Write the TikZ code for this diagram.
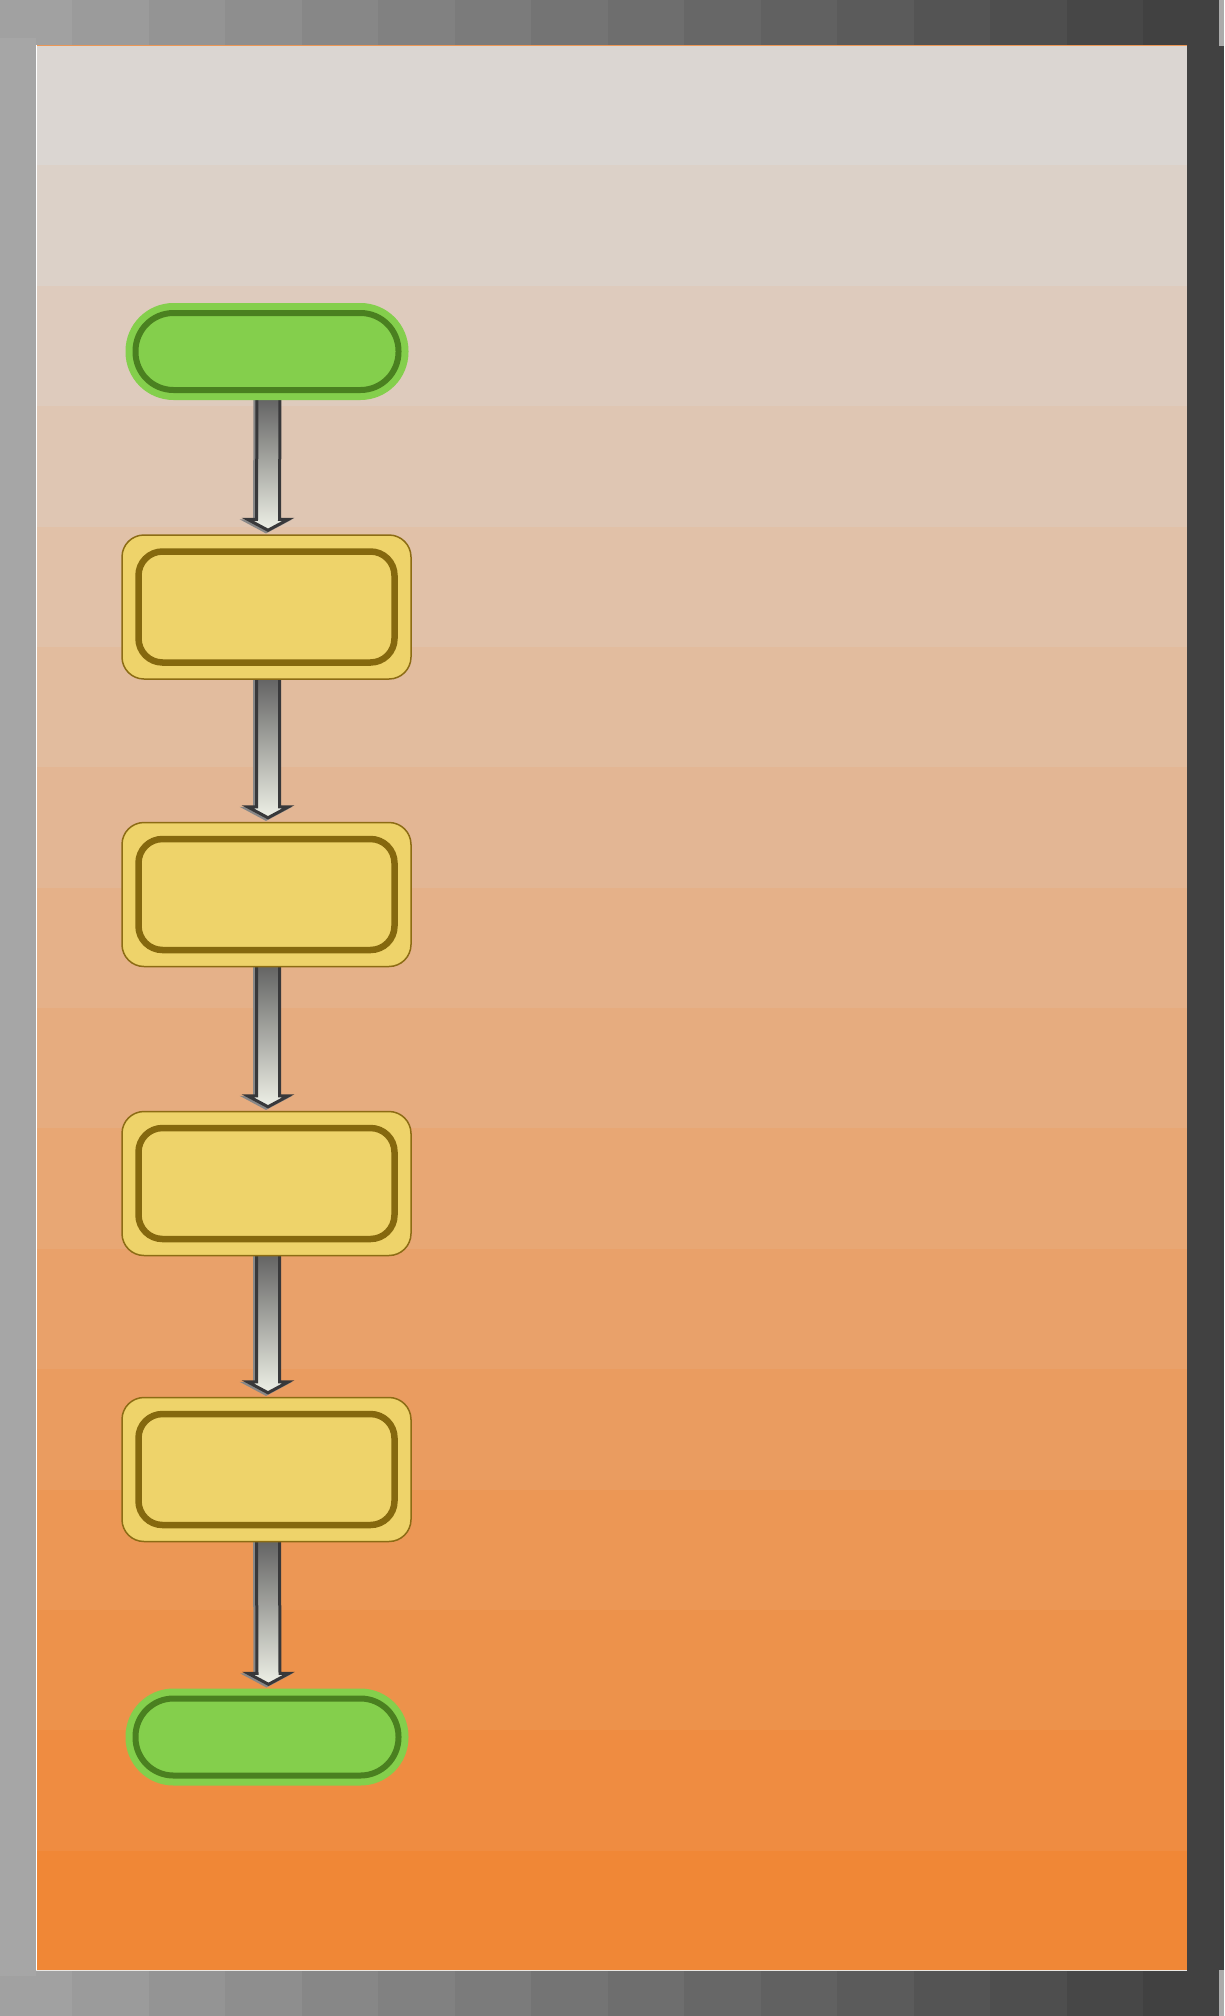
\documentclass[tikz,border=0pt]{standalone}
\usetikzlibrary{calc,backgrounds}

\definecolor{paneltop}{RGB}{219,214,210}
\definecolor{panelbot}{RGB}{240,135,54}
\definecolor{termfill}{RGB}{132,207,76}
\definecolor{termring}{RGB}{74,128,32}
\definecolor{stepfill}{RGB}{238,211,106}
\definecolor{stepring}{RGB}{133,104,14}
\definecolor{stepedge}{RGB}{140,108,20}
\definecolor{arrowedge}{RGB}{56,56,58}
\definecolor{arrowtop}{RGB}{98,98,98}
\definecolor{arrowbot}{RGB}{238,240,230}
\definecolor{arrowshadow}{RGB}{135,135,135}

\tikzset{
	terminal/.style={minimum width=283pt, minimum height=97pt, inner sep=0pt, rounded corners=48pt, fill=termfill,
		path picture={\draw[termring, line width=6pt, rounded corners=38pt] ([xshift=10pt,yshift=10pt]path picture bounding box.south west) rectangle ([xshift=-10pt,yshift=-10pt]path picture bounding box.north east);}},
	stepbox/.style={minimum width=289pt, minimum height=144pt, inner sep=0pt, rounded corners=22pt, fill=stepfill, draw=stepedge, line width=1.5pt,
		path picture={\draw[stepring, line width=6.5pt, rounded corners=24pt] ([xshift=16.5pt,yshift=16.5pt]path picture bounding box.south west) rectangle ([xshift=-16.5pt,yshift=-16.5pt]path picture bounding box.north east);}},
	arrowbody/.style={draw=arrowedge, line width=3pt, top color=arrowtop, bottom color=arrowbot},
	arrowshade/.style={draw=arrowshadow, fill=arrowshadow, line width=3pt, transform canvas={xshift=-2pt,yshift=-1.5pt}}
}

% fat block arrow from the bottom of #1 to the top of #2
\newcommand{\arrowpath}[2]{($(#1.south)+(-10,-3)$) -- ($(#2.north)+(-10,-15)$) -- ($(#2.north)+(-19,-15)$) -- ($(#2.north)+(1.5,-4)$) -- ($(#2.north)+(22,-15)$) -- ($(#2.north)+(13,-15)$) -- ($(#1.south)+(13,-3)$) -- cycle}
\newcommand{\flowarrow}[2]{\path[arrowshade] \arrowpath{#1}{#2}; \path[arrowbody] \arrowpath{#1}{#2};}

\begin{document}
\begin{tikzpicture}[x=1pt,y=-1pt]
		\useasboundingbox (0,0) rectangle (1224,2016);
		
		\begin{scope}[on background layer]
		% grey frame
		\foreach \k [evaluate=\k as \w using (161-6.4*\k)/2.55] in {0,...,15} {
			\fill[white!\w!black] (76.5*\k-4.5,0) rectangle (76.5*\k+72,45);
			\fill[white!\w!black] (76.5*\k-4.5,1971) rectangle (76.5*\k+72,2016);
		}
		\fill[white!65!black] (0,38) rectangle (36,1976);
		\fill[white!25.5!black] (1187,45) rectangle (1224,1971);
		\fill[white!67!black] (1219,0) rectangle (1224,46);
		\fill[white!67!black] (1219,1970) rectangle (1224,2016);
		
		% panel
		\foreach \k [evaluate=\k as \p using \k*100/15] in {0,...,15}
			\fill[panelbot!\p!paneltop] (36,45+120.375*\k) rectangle (1187,45+120.375*\k+120.4);
		\draw[panelbot!80!paneltop, line width=1pt] (36,45.5) -- (1187,45.5);
		\draw[white, line width=1pt] (36.5,45) -- (36.5,1971);
		\draw[paneltop!60!white, line width=1.5pt] (36,1970.5) -- (1187,1970.5);
		\end{scope}
		
		\node[terminal] (start) at (267,351.5) {};
		\node[stepbox] (stepA) at (266.5,607) {};
		\node[stepbox] (stepB) at (266.5,894.5) {};
		\node[stepbox] (stepC) at (266.5,1183.5) {};
		\node[stepbox] (stepD) at (266.5,1469.5) {};
		\node[terminal] (stop) at (267,1737) {};
		
		\begin{scope}[on background layer]
		\flowarrow{start}{stepA}
		\flowarrow{stepA}{stepB}
		\flowarrow{stepB}{stepC}
		\flowarrow{stepC}{stepD}
		\flowarrow{stepD}{stop}
		\end{scope}
\end{tikzpicture}
\end{document}
